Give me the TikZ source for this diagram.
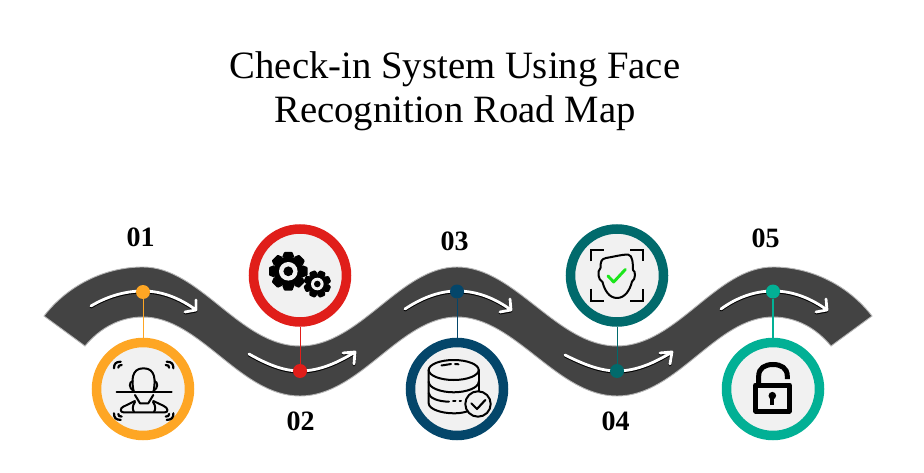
\documentclass[tikz,border=0pt]{standalone}
\usepackage{fontspec}
\setmainfont{Liberation Serif}
\definecolor{roadc}{HTML}{434343}
\definecolor{edgec}{HTML}{B5B5B5}
\definecolor{plate}{HTML}{F1F1F1}
\definecolor{cA}{HTML}{FEA624}
\definecolor{cB}{HTML}{E01E1A}
\definecolor{cC}{HTML}{04466A}
\definecolor{cD}{HTML}{016A6C}
\definecolor{cE}{HTML}{02B095}
\definecolor{tick}{HTML}{1BE61B}
\tikzset{
  ring/.style={circle,draw=#1,fill=plate,line width=9.5pt,minimum size=93pt,inner sep=0pt},
  stud/.style={circle,fill=#1,minimum size=14pt,inner sep=0pt},
  stem/.style={draw=#1,line width=1pt},
  numlabel/.style={font=\fontsize{28}{28}\selectfont\bfseries,text=black,inner sep=0pt},
  titletext/.style={font=\fontsize{38.7}{44}\selectfont,align=center,text=black,inner sep=0pt},
  laneW/.style={draw=white,line width=2.8pt,line cap=round,line join=round},
  laneB/.style={draw=black,line width=2.8pt,line cap=round,line join=round},
  ico/.style={draw=black,line width=2pt,line cap=round,line join=round},
}
\newcommand{\lanepath}[9]{(#1) .. controls (#2) and (#3) .. (#4) .. controls (#5) and (#6) .. (#7) (#8) -- (#7) -- (#9)}
\newcommand{\lanearrow}[9]{%
  \begin{scope}[yshift=-1.1pt]\path[laneB] \lanepath{#1}{#2}{#3}{#4}{#5}{#6}{#7}{#8}{#9};\end{scope}
  \path[laneW] \lanepath{#1}{#2}{#3}{#4}{#5}{#6}{#7}{#8}{#9};}
\newcommand{\mygear}[7]{%
  \fill[black] (#1,#2) circle[radius=#4];
  \foreach \ang in {0,45,...,315}{
    \fill[black,rounded corners=0.8pt,shift={(#1,#2)},rotate=\ang+#7]
      (#4-1,-0.42*#4) -- (#3,-0.28*#4) -- (#3,0.28*#4) -- (#4-1,0.42*#4) -- cycle;
  }
  \fill[plate] (#1,#2) circle[radius=#5];
  \fill[black] (#1,#2) circle[radius=#6];
}
\begin{document}
\begin{tikzpicture}[x=1pt,y=-1pt]
\useasboundingbox (0,0) rectangle (924,473);
\path[fill=roadc,draw=edgec,line width=0.9pt,line join=miter]
  (44,316) .. controls (68,285) and (105,267) .. (143,267)
  .. controls (200,267) and (240,346) .. (300,346)
  .. controls (360,346) and (400,267) .. (457,267)
  .. controls (515,267) and (557,346) .. (617,346)
  .. controls (677,346) and (716,267) .. (773,267)
  .. controls (811,267) and (848,285) .. (872,316)
  -- (831,346)
  .. controls (816,328) and (796,317) .. (773,317)
  .. controls (716,317) and (677,396) .. (617,396)
  .. controls (557,396) and (515,317) .. (457,317)
  .. controls (400,317) and (360,396) .. (300,396)
  .. controls (240,396) and (200,317) .. (143,317)
  .. controls (120,317) and (100,328) .. (85,346) -- cycle;
\lanearrow{91,306}{106,297}{124,291}{143,291}{163,291}{181,299}{196,310}{196,300}{185,312}
\lanearrow{249,354}{265,363}{282,371}{300,371}{320,371}{339,362}{355,352}{343,353}{354,364}
\lanearrow{405,309}{420,299}{438,291}{457,291}{478,291}{496,299}{511,310}{510,299}{500,312}
\lanearrow{565,355}{581,363}{599,371}{617,371}{637,371}{656,362}{672,352}{660,353}{670,364}
\lanearrow{721,309}{736,298}{754,291}{773,291}{794,291}{812,299}{827,310}{826,299}{816,312}
\node[ring=cA] (c1) at (143,389) {};
\node[ring=cB] (c2) at (300,275.5) {};
\node[ring=cC] (c3) at (457,389) {};
\node[ring=cD] (c4) at (617,275.5) {};
\node[ring=cE] (c5) at (773,389) {};
\node[stud=cA] (d1) at (143,292) {};
\node[stud=cB] (d2) at (300,371) {};
\node[stud=cC] (d3) at (457,291.5) {};
\node[stud=cD] (d4) at (617,371) {};
\node[stud=cE] (d5) at (773,291.5) {};
\draw[stem=cA] (d1) -- (c1);
\draw[stem=cB] (d2) -- (c2);
\draw[stem=cC] (d3) -- (c3);
\draw[stem=cD] (d4) -- (c4);
\draw[stem=cE,line width=2pt] (d5) -- (c5);
\node[titletext] (title) at (455,91) {Check-in System Using Face\\Recognition Road Map};
\node[numlabel] (n1) at (140.5,237) {01};
\node[numlabel] (n2) at (300.5,421) {02};
\node[numlabel] (n3) at (454.5,241) {03};
\node[numlabel] (n4) at (615.5,421) {04};
\node[numlabel] (n5) at (765.5,238) {05};
% icon 1
\path[ico] (133.7,391.7) .. controls (131.5,381) and (131,368.3) .. (143.5,368.3) .. controls (156,368.3) and (155.5,381) .. (153.5,391.7);
\path[ico] (132.7,381) .. controls (129,382) and (128.5,388) .. (133.7,391);
\path[ico] (154.5,381) .. controls (158,382) and (158.5,388) .. (153.5,391);
\path[ico,line width=2.1pt] (116.7,391.7) -- (171.7,391.7);
\path[ico] (135,395) -- (140,403.3) -- (148.3,403.3) -- (153.3,395);
\path[ico] (135,401) -- (123.3,406.7) .. controls (120,408) and (120,412.3) .. (123.3,412.3) -- (165,412.3) .. controls (168.5,412.3) and (168.5,408) .. (163.3,405.7) -- (153.3,401);
\path[ico] (135,402) .. controls (132,406) and (132.5,410) .. (134,412);
\path[ico] (153,402) .. controls (156,406) and (155.5,410) .. (154,412);
\foreach \sx/\sy in {1/1,-1/1,1/-1,-1/-1}{
  \begin{scope}[shift={(143.7,390.8)},xscale=\sx,yscale=\sy]
    \path[ico,line width=2.2pt] (-29.7,-22.5) .. controls (-29.7,-27) and (-28,-29) .. (-23,-29.1);
    \path[ico,line width=2.2pt] (-25.4,-23.1) .. controls (-25.4,-25) and (-24.5,-25.8) .. (-22,-25.8);
  \end{scope}
}
% icon 2
\mygear{288.3}{271.3}{19.3}{14.8}{9.3}{4.9}{0}
\mygear{317.3}{284}{13.7}{10.5}{6.3}{3.3}{22}
% icon 3
\path[ico] (453.7,370) circle[x radius=25,y radius=10];
\path[ico] (428.7,370) -- (428.7,403.3) .. controls (428.7,409) and (441,413.3) .. (453.7,413.3) .. controls (458,413.3) and (462,413) .. (467,411.5);
\path[ico] (478.7,370) -- (478.7,391);
\path[ico] (428.7,381.7) .. controls (428.7,388) and (441,392.3) .. (453.7,392.3) .. controls (466,392.3) and (478.7,388) .. (478.7,381.7);
\path[ico] (428.7,393) .. controls (429,398) and (438,401.5) .. (449,401.7);
\path[ico] (453,401.3) -- (455.5,401.3) (459.5,401) -- (461,401);
\path[ico] (441.5,365.5) -- (451,364) (455,364) -- (458.5,364.3);
\path[ico,fill=plate] (478,404) circle[radius=12.7];
\path[ico,line width=2.1pt] (471.3,403.3) -- (477,409) -- (485.3,400);
% icon 4
\path[ico,line width=2.1pt,line cap=butt,line join=miter] (591,261.3) -- (591,250.3) -- (603.7,250.3);
\path[ico,line width=2.1pt,line cap=butt,line join=miter] (630.3,250.3) -- (643,250.3) -- (643,261.3);
\path[ico,line width=2.1pt,line cap=butt,line join=miter] (591,288.7) -- (591,301) -- (603.7,301);
\path[ico,line width=2.1pt,line cap=butt,line join=miter] (630.3,301) -- (643,301) -- (643,288.7);
\path[ico] (600.5,268) .. controls (600.5,262) and (601,259) .. (606,258) .. controls (615,256.5) and (622,254.5) .. (628,254.5) .. controls (633,255) and (633,265) .. (633,270) .. controls (636,271) and (635.5,280) .. (632,281.5) .. controls (630,290) and (625,298) .. (617,298) .. controls (609,298) and (604.5,290) .. (602.5,282) .. controls (598,280) and (597,271) .. (600.5,268) -- cycle;
\path[draw=tick,line width=2.9pt,line cap=round,line join=round] (608,276) -- (613.7,282) -- (625.3,269.5);
% icon 5
\path[draw=black,line width=5pt,line join=round] (755.7,385) rectangle (789.3,411);
\path[draw=black,line width=5pt] (758.7,385) -- (758.7,376) .. controls (758.7,368) and (765,364.5) .. (773,364.5) .. controls (781,364.5) and (787.3,368) .. (787.3,376) -- (787.3,379);
\fill[black] (772.3,395.7) circle[radius=3.8];
\fill[black] (770.4,396) -- (774.2,396) -- (774.2,404.5) -- (770.4,404.5) -- cycle;
\end{tikzpicture}
\end{document}
